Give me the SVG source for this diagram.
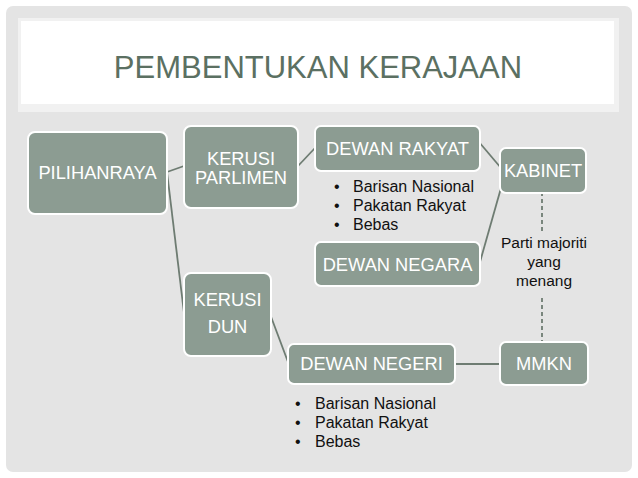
<svg xmlns="http://www.w3.org/2000/svg" width="638" height="478" viewBox="0 0 638 478">
<style>
.node rect{fill:#8c9c92;stroke:#ffffff;stroke-width:2}
.node text{font-family:"Liberation Sans",Arial,sans-serif;font-size:18.3px;fill:#ffffff;text-anchor:middle}
.conn line{stroke:#6e7c72;stroke-width:1.8}
.dash{stroke:#8a968e;stroke-width:2.5;stroke-dasharray:4,3}
.lbl{font-family:"Liberation Sans",Arial,sans-serif;font-size:16px;fill:#111111}
.note{font-family:"Liberation Sans",Arial,sans-serif;font-size:15.5px;fill:#111111;text-anchor:middle}
</style>
<rect x="0" y="0" width="638" height="478" fill="#ffffff"/>
<rect x="6" y="6" width="626" height="466" rx="7" fill="#e4e4e4"/>
<rect x="18" y="18" width="601" height="94" fill="#f1f1f1"/>
<rect x="21" y="21" width="593" height="83" fill="#ffffff"/>
<text x="318" y="78" text-anchor="middle" font-family="'Liberation Sans',Arial,sans-serif" font-size="31" fill="#5b7062">PEMBENTUKAN KERAJAAN</text>

<g id="connectors" class="conn">
<line x1="167" y1="172" x2="184" y2="166"/>
<line x1="167" y1="172" x2="184" y2="313"/>
<line x1="298" y1="166" x2="315" y2="148"/>
<line x1="479" y1="142" x2="501" y2="168"/>
<line x1="480" y1="262" x2="501" y2="188"/>
<line x1="270" y1="314" x2="288" y2="362"/>
<line x1="454" y1="364" x2="500" y2="364"/>
<line class="dash" x1="542" y1="192" x2="542" y2="232"/>
<line class="dash" x1="542" y1="298" x2="542" y2="342"/>
</g>

<g id="pilihanraya" class="node"><rect x="28" y="132" width="139" height="82" rx="7"/><text x="97.5" y="179">PILIHANRAYA</text></g>
<g id="kerusi-parlimen" class="node"><rect x="184" y="126" width="114" height="82" rx="7"/><text x="241" y="165">KERUSI</text><text x="241" y="184">PARLIMEN</text></g>
<g id="dewan-rakyat" class="node"><rect x="315" y="126" width="165" height="45" rx="6"/><text x="397.5" y="155">DEWAN RAKYAT</text></g>
<g id="kabinet" class="node"><rect x="500" y="148" width="86" height="45" rx="6"/><text x="543" y="177">KABINET</text></g>
<g id="dewan-negara" class="node"><rect x="315" y="242" width="165" height="44" rx="6"/><text x="397.5" y="271">DEWAN NEGARA</text></g>
<g id="kerusi-dun" class="node"><rect x="184" y="273" width="87" height="83" rx="7"/><text x="227.5" y="306">KERUSI</text><text x="227.5" y="333">DUN</text></g>
<g id="dewan-negeri" class="node"><rect x="288" y="344" width="167" height="40" rx="6"/><text x="371.5" y="370">DEWAN NEGERI</text></g>
<g id="mmkn" class="node"><rect x="500" y="342" width="88" height="43" rx="6"/><text x="544" y="370">MMKN</text></g>

<g id="list-parlimen" class="lbl">
<text x="334" y="192">•</text><text x="353" y="192">Barisan Nasional</text>
<text x="334" y="211">•</text><text x="353" y="211">Pakatan Rakyat</text>
<text x="334" y="230">•</text><text x="353" y="230">Bebas</text>
</g>
<g id="list-negeri" class="lbl">
<text x="295" y="409">•</text><text x="315" y="409">Barisan Nasional</text>
<text x="295" y="428">•</text><text x="315" y="428">Pakatan Rakyat</text>
<text x="295" y="447">•</text><text x="315" y="447">Bebas</text>
</g>
<g id="note-majoriti">
<text class="note" x="544" y="248">Parti majoriti</text>
<text class="note" x="544" y="267">yang</text>
<text class="note" x="544" y="286">menang</text>
</g>
</svg>
